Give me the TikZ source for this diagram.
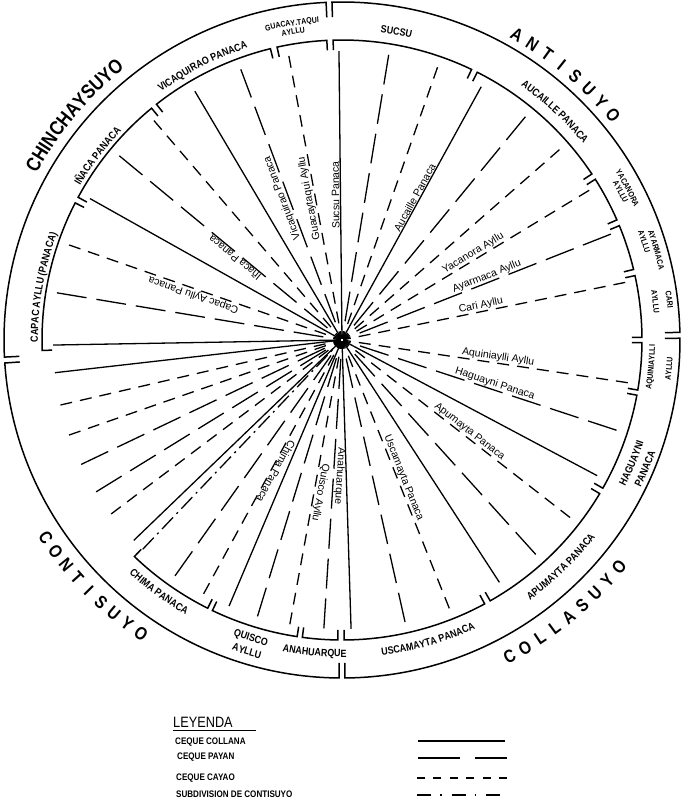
\documentclass[tikz,border=0pt]{standalone}
\usepackage{fontspec}
\setmainfont{Liberation Sans}
\newfontfamily\condfont[FakeStretch=0.85]{Liberation Sans}
\usetikzlibrary{calc,decorations.text}

\newcommand{\Rout}{338}
\newcommand{\Rin}{300}
\newcommand{\Rtick}{290}
\newcommand{\Rceq}{289}
\newcommand{\grpfont}{\condfont\bfseries\fontsize{10.5}{11}\selectfont}
\newcommand{\smgrpfont}{\condfont\bfseries\fontsize{8.2}{9}\selectfont}
\newcommand{\suyofont}{\condfont\bfseries\fontsize{18}{18}\selectfont}
\newcommand{\bigsuyofont}{\condfont\bfseries\fontsize{20}{20}\selectfont}

\tikzset{
  ring/.style={line width=1.5pt},
  collana/.style={line width=1.3pt},
  payan/.style={line width=1.3pt, dash pattern=on 30pt off 10pt},
  cayao/.style={line width=1.3pt, dash pattern=on 12pt off 8pt},
  subdiv/.style={line width=1.3pt, dash pattern=on 16pt off 5pt on 2pt off 5pt},
  cequelab/.style={font=\fontsize{10.5}{10.5}\selectfont, anchor=south, inner sep=1pt},
  suyoletter/.style={font=\suyofont, inner sep=0pt},
  legtext/.style={font=\condfont\bfseries\fontsize{9.5}{9.5}\selectfont, anchor=west, inner sep=0pt},
}

% bracket of a panaca / ayllu on the inner ring
\newcommand{\grouparc}[2]{%
  \draw[ring] ($(O)+(#1:\Rtick)$) -- ($(O)+(#1:\Rin)$)
    arc[start angle=#1, end angle=#2, radius=\Rin] -- ($(O)+(#2:\Rtick)$);}
% one suyo on the outer ring
\newcommand{\suyoarc}[2]{%
  \draw[ring] ($(O)+(#1:323)$) -- ($(O)+(#1:\Rout)$)
    arc[start angle=#1, end angle=#2, radius=\Rout] -- ($(O)+(#2:323)$);}
% text set along an arc: font, radius, from, to, text
\newcommand{\arctext}[5]{%
  \path[decorate, decoration={text along path, text align=center,
      text={|#1|#5}}]
    ($(O)+(#3:#2)$) arc[start angle=#3, end angle=#4, radius=#2];}

\begin{document}
\begin{tikzpicture}[x=1pt, y=1pt]
  \useasboundingbox (0,0) rectangle (685,-801);
  \coordinate (O) at (342,-340);

  % the four suyos
  \suyoarc{92.7}{182.9}
  \suyoarc{1.3}{91.7}
  \suyoarc{-89.5}{0.3}
  \suyoarc{183.9}{269.5}

  % panacas and ayllus
  \grouparc{152.8}{182}
  \grouparc{129.4}{151.6}
  \grouparc{103.8}{128.2}
  \grouparc{92.9}{102.5}
  \grouparc{64.4}{91.7}
  \grouparc{33.6}{63.2}
  \grouparc{23.6}{32.4}
  \grouparc{13.6}{22.4}
  \grouparc{0.5}{12.4}
  \grouparc{-9.6}{-0.5}
  \grouparc{-29.6}{-10.6}
  \grouparc{-60.4}{-30.8}
  \grouparc{-89.6}{-61.6}
  \grouparc{262.4}{269.2}
  \grouparc{244.4}{261.4}
  \grouparc{226.2}{243.4}

  % ceques
  \foreach \a/\s in {181/collana, 170.6/payan, 160.8/cayao, 150.7/collana,
      140.4/payan, 130.6/cayao, 120.6/collana, 110.5/payan, 100.6/cayao,
      90.6/collana, 80.7/payan, 70.7/cayao, 61.2/collana, 50.6/payan,
      41.2/cayao, 31.2/cayao, 21.5/payan, 11.5/cayao,
      -8.5/cayao, -18.2/payan, -28/collana, -37.9/cayao, -47.9/payan,
      -57/collana, -68.2/cayao, -77.4/payan, -88.2/collana,
      186.5/collana, 193/cayao, 199.2/cayao, 205.5/payan, 211.7/payan,
      217/cayao, 223.9/collana, 226.4/subdiv, 234.7/payan, 241.4/cayao,
      247/collana, 253/payan, 259.6/cayao, 266.4/payan}
    \draw[\s] ($(O)+(\a:\Rceq)$) -- ($(O)+(\a:1.5)$);

  % names of the ceques
  \foreach \a/\r/\t [count=\i] in {160.8/155/Capac Ayllu Panaca,
      140.4/135/Iñaca Panaca, 110.5/154/Vicaquirao Panaca,
      100.6/145/Guacaytaqui Ayllu, 90.6/145/Sucsu Panaca,
      61.2/160/Aucaille Panaca, 31.2/157/Yacanora Ayllu,
      21.5/158/Ayarmaca Ayllu, 11.5/143/Cari Ayllu,
      -8.5/157/Aquiniaylli Ayllu, -18.2/159/Haguayni Panaca,
      -37.9/157/Apumayta Panaca, -68.2/151/Uscamayta Panaca,
      241.4/147/Chima Panaca, 259.6/154/Quisco Ayllu, 266.4/136/Anahuarque}
    \node[cequelab, rotate=\a] (ceq\i) at ($(O)+(\a:\r)$) {\t};

  % names of the panacas and ayllus
  \arctext{\grpfont}{304}{195}{145}{CAPAC AYLLU (PANACA)}
  \arctext{\grpfont}{304}{168}{118}{IÑACA PANACA}
  \arctext{\grpfont}{307}{142}{92}{VICAQUIRAO PANACA}
  \arctext{\smgrpfont}{318}{124}{74}{GUACAY.TAQUI}
  \arctext{\smgrpfont}{309.5}{124}{74}{AYLLU}
  \arctext{\grpfont}{310}{105}{55}{SUCSU}
  \arctext{\grpfont}{311}{72}{22}{AUCAILLE PANACA}
  \arctext{\smgrpfont}{321}{53}{3}{YACANORA}
  \arctext{\smgrpfont}{313}{53}{3}{AYLLU}
  \arctext{\smgrpfont}{324.6}{41}{-9}{AYARMACA}
  \arctext{\smgrpfont}{315}{43}{-7}{AYLLU}
  \arctext{\smgrpfont}{327}{32}{-18}{CARI}
  \arctext{\smgrpfont}{313}{32}{-18}{AYLLU}
  \arctext{\smgrpfont}{313}{-30}{20}{AQUINIAYLLI}
  \arctext{\smgrpfont}{331}{-30}{20}{AYLLU}
  \arctext{\grpfont}{318.6}{-48}{2}{HAGUAYNI}
  \arctext{\grpfont}{333}{-48}{2}{PANACA}
  \arctext{\grpfont}{321}{-71}{-21}{APUMAYTA PANACA}
  \arctext{\grpfont}{318}{-99}{-49}{USCAMAYTA PANACA}
  \arctext{\grpfont}{317}{240}{290}{ANAHUARQUE}
  \arctext{\grpfont}{315}{228}{278}{QUISCO}
  \arctext{\grpfont}{329}{228}{278}{AYLLU}
  \arctext{\grpfont}{316}{209}{259}{CHIMA PANACA}

  % names of the suyos
  \arctext{\bigsuyofont}{348}{166}{114}{CHINCHAYSUYO}
  \foreach \ch [count=\i from 0] in {A,N,T,I,S,U,Y,O}
    \node[suyoletter, rotate={60.2-2.93*\i-90}] (anti\i)
      at ($(O)+({60.2-2.93*\i}:352)$) {\ch};
  \foreach \ch [count=\i from 0] in {C,O,N,T,I,S,U,Y,O}
    \node[suyoletter, rotate={213.7+2.74*\i+90}] (conti\i)
      at ($(O)+({213.7+2.74*\i}:356)$) {\ch};
  \foreach \ch [count=\i from 0] in {C,O,L,L,A,S,U,Y,O}
    \node[suyoletter, rotate={297.9+2.85*\i+90}] (colla\i)
      at ($(O)+({297.9+2.85*\i}:358)$) {\ch};

  % legend
  \node[font=\condfont\fontsize{15}{15}\selectfont, anchor=south west, inner sep=0pt]
    (leyenda) at (173,-728) {LEYENDA};
  \draw[line width=1pt] ([yshift=-2pt]leyenda.south west) -- ++(83,0);
  \node[legtext] (lcollana) at (175,-742) {CEQUE COLLANA};
  \node[legtext] (lpayan) at (177,-757) {CEQUE PAYAN};
  \node[legtext] (lcayao) at (176,-778) {CEQUE CAYAO};
  \node[legtext] (lsubdiv) at (176,-794) {SUBDIVISION DE CONTISUYO};
  \draw[collana] (418,-741) -- (505,-741);
  \draw[collana] (418,-758) -- (460,-758);
  \draw[collana] (475,-758) -- (507,-758);
  \draw[cayao, dash pattern=on 8pt off 8.4pt] (417,-778) -- (507,-778);
  \draw[subdiv, dash pattern=on 14pt off 9pt on 1.5pt off 10pt] (417,-795) -- (509,-795);
\end{tikzpicture}
\end{document}
